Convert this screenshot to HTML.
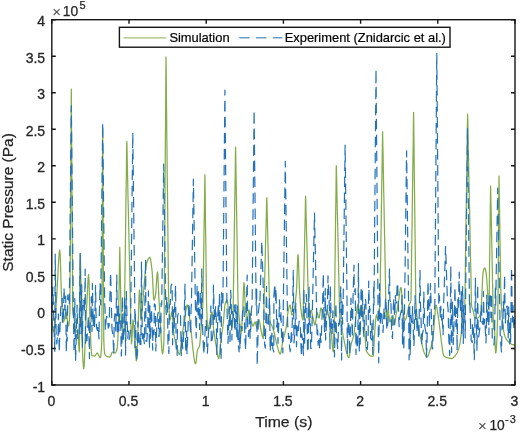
<!DOCTYPE html>
<html><head><meta charset="utf-8"><style>
html,body{margin:0;padding:0;background:#fff;}
body{width:520px;height:433px;overflow:hidden;}
svg{display:block;filter:blur(0.35px);}
</style></head><body>
<svg width="520" height="433" viewBox="0 0 520 433"><rect width="520" height="433" fill="#fff"/><defs><clipPath id="c"><rect x="51.8" y="19.7" width="463.2" height="365.3"/></clipPath></defs><g clip-path="url(#c)" fill="none" stroke-linejoin="round"><polyline points="51.8,318.0 52.2,323.3 52.6,327.2 53.0,329.8 53.4,331.3 53.8,331.9 54.0,332.0 54.2,331.6 54.6,328.9 55.0,324.1 55.4,317.9 55.8,311.1 56.2,304.5 56.5,300.0 56.6,298.6 57.0,291.9 57.4,284.3 57.8,276.2 58.2,268.3 58.6,261.2 59.0,255.4 59.4,251.4 59.8,250.0 59.8,250.0 60.2,255.2 60.6,267.4 61.0,282.0 61.4,294.0 61.5,296.0 61.8,301.4 62.2,308.6 62.6,314.9 63.0,319.6 63.4,321.9 63.5,322.0 63.8,321.6 64.2,320.1 64.6,317.9 65.0,315.5 65.4,313.5 65.8,312.2 66.0,312.0 66.2,312.3 66.6,314.0 67.0,316.9 67.4,320.3 67.8,323.3 68.2,325.4 68.5,326.0 68.6,325.9 69.0,324.4 69.4,320.2 69.8,312.5 69.9,310.0 70.1,273.2 70.2,262.6 70.4,236.3 70.6,199.5 70.6,199.5 70.8,162.7 71.0,136.4 71.1,125.8 71.3,89.0 71.4,99.6 71.5,125.8 71.8,162.7 71.8,167.9 72.0,199.5 72.2,231.1 72.2,236.3 72.5,273.2 72.6,298.9 72.7,310.0 73.0,313.4 73.4,315.7 73.8,317.0 74.0,318.0 74.2,319.3 74.6,321.9 75.0,324.6 75.4,327.1 75.8,329.2 76.0,330.0 76.2,330.6 76.6,331.6 77.0,332.3 77.4,333.1 77.8,334.2 78.0,335.0 78.2,336.7 78.6,343.3 79.0,349.9 79.3,352.0 79.4,348.6 79.8,294.6 80.2,253.5 80.2,253.5 80.6,263.7 81.0,287.3 81.4,313.6 81.8,332.0 81.8,332.0 82.2,342.8 82.6,352.9 83.0,361.2 83.4,366.9 83.8,369.0 83.8,369.0 84.2,365.4 84.6,356.5 85.0,345.1 85.4,333.8 85.6,329.0 85.8,324.7 86.2,316.0 86.6,307.7 87.0,300.0 87.0,300.0 87.4,292.0 87.8,283.6 88.2,277.1 88.6,274.5 88.6,274.5 89.0,280.7 89.4,295.4 89.8,312.9 90.2,327.5 90.3,330.0 90.6,336.9 91.0,345.8 91.4,352.6 91.8,355.4 91.8,355.4 92.2,355.6 92.6,355.7 93.0,355.8 93.4,355.9 93.8,355.9 94.2,356.0 94.6,356.0 94.8,356.0 95.0,355.9 95.4,355.5 95.8,354.9 96.2,354.1 96.6,353.5 97.0,353.1 97.2,353.0 97.4,353.1 97.8,353.5 98.2,354.2 98.6,355.1 99.0,356.0 99.4,356.9 99.8,357.5 100.2,357.7 100.2,357.7 100.6,357.1 101.0,354.5 101.4,349.1 101.8,340.0 101.8,340.0 102.0,304.7 102.1,269.3 102.2,245.8 102.2,234.0 102.4,198.7 102.5,163.3 102.6,148.9 102.7,128.0 102.9,163.3 103.0,185.8 103.1,198.7 103.2,234.0 103.4,262.9 103.4,269.3 103.6,304.7 103.8,340.0 103.8,340.0 104.2,349.4 104.6,353.3 104.8,354.0 105.0,354.4 105.4,355.2 105.8,355.7 106.2,356.1 106.6,356.3 107.0,356.5 107.0,356.5 107.4,356.6 107.8,356.7 108.2,356.8 108.6,356.9 109.0,356.9 109.4,357.0 109.8,357.0 110.0,357.0 110.2,356.9 110.6,356.3 111.0,355.2 111.4,354.1 111.8,353.0 112.2,352.2 112.5,352.0 112.6,352.0 113.0,352.1 113.4,352.3 113.8,352.5 114.2,352.8 114.6,352.9 115.0,353.0 115.0,353.0 115.4,352.8 115.8,352.3 116.2,351.5 116.6,350.3 117.0,348.8 117.2,348.0 117.4,346.5 117.8,340.0 118.2,329.7 118.5,320.0 118.6,315.0 118.7,307.9 118.9,295.8 119.0,292.1 119.2,283.7 119.4,271.6 119.4,269.7 119.6,259.5 119.8,247.4 119.8,247.4 120.0,257.8 120.2,268.3 120.2,268.3 120.4,278.7 120.6,289.1 120.6,289.1 120.8,299.6 121.0,310.0 121.0,310.0 121.4,318.4 121.8,324.2 122.2,328.0 122.5,330.0 122.6,330.6 123.0,332.8 123.4,334.4 123.8,335.0 123.8,335.0 124.2,330.0 124.2,330.0 124.6,301.1 124.6,298.6 125.0,272.0 125.1,267.1 125.4,243.0 125.5,235.7 125.8,213.9 125.9,204.3 126.2,184.9 126.4,172.8 126.6,151.7 126.8,141.4 127.0,146.0 127.4,167.9 127.5,171.2 127.8,186.0 128.1,200.9 128.2,203.9 128.6,221.8 128.8,230.7 129.0,239.6 129.4,257.5 129.5,260.5 129.8,275.3 130.1,290.2 130.2,293.2 130.6,311.7 130.8,320.0 131.0,328.7 131.4,343.0 131.5,343.8 131.8,341.3 132.2,333.1 132.6,324.2 133.0,320.0 133.0,320.0 133.4,321.8 133.8,326.5 134.2,332.8 134.6,339.4 135.0,345.0 135.0,345.0 135.4,350.5 135.8,356.3 136.2,360.2 136.4,360.8 136.6,360.0 137.0,354.2 137.4,345.0 137.8,334.8 138.0,330.0 138.2,324.7 138.6,311.1 139.0,297.9 139.4,290.4 139.5,290.0 139.8,293.1 140.2,303.5 140.6,314.7 141.0,320.0 141.0,320.0 141.4,318.6 141.8,315.1 142.2,310.2 142.6,304.9 143.0,300.0 143.0,300.0 143.4,295.1 143.8,289.6 144.2,284.1 144.6,279.1 145.0,275.0 145.0,275.0 145.4,271.6 145.8,268.5 146.2,265.7 146.6,263.5 147.0,262.0 147.0,262.0 147.4,260.9 147.8,259.9 148.2,259.1 148.6,258.3 149.0,257.8 149.4,257.4 149.8,257.3 149.8,257.3 150.2,257.9 150.6,259.6 151.0,262.0 151.4,265.0 151.8,268.3 152.0,270.0 152.2,272.2 152.6,278.9 153.0,287.1 153.4,294.6 153.8,299.3 154.0,300.0 154.2,299.9 154.6,299.0 155.0,297.4 155.4,295.5 155.5,295.0 155.8,292.5 156.2,287.0 156.6,280.7 157.0,275.1 157.4,272.1 157.5,272.0 157.8,274.1 158.2,281.5 158.6,291.3 159.0,300.0 159.0,300.0 159.4,306.9 159.8,313.6 160.2,320.0 160.2,320.0 160.6,327.0 161.0,334.8 161.4,342.3 161.8,348.6 162.2,352.8 162.5,353.8 162.6,353.7 163.0,352.4 163.4,348.7 163.8,342.4 164.0,338.0 164.2,313.6 164.3,291.2 164.6,253.7 164.7,244.3 165.0,197.5 165.0,197.5 165.3,150.7 165.4,141.3 165.7,103.8 165.8,80.6 166.0,57.0 166.2,70.6 166.4,95.8 166.6,112.9 166.8,134.7 167.0,150.2 167.2,173.5 167.4,187.5 167.7,212.3 167.8,224.8 168.1,251.2 168.2,263.4 168.5,290.0 168.6,293.6 169.0,306.1 169.4,314.8 169.8,319.4 170.0,320.0 170.2,319.8 170.6,318.3 171.0,316.0 171.4,313.7 171.8,312.2 172.0,312.0 172.2,312.5 172.6,316.2 173.0,322.0 173.4,328.3 173.8,333.4 174.0,335.0 174.2,336.2 174.6,338.2 175.0,339.8 175.4,341.3 175.8,342.6 176.2,344.0 176.5,345.0 176.6,345.4 177.0,346.9 177.4,348.6 177.8,350.3 178.2,351.9 178.6,353.2 179.0,354.1 179.4,354.6 179.5,354.6 179.8,354.0 180.2,351.8 180.6,348.3 181.0,344.2 181.4,340.1 181.8,336.4 182.0,335.0 182.2,333.8 182.6,331.5 183.0,329.4 183.4,327.4 183.8,325.4 184.2,323.4 184.6,321.2 184.8,320.0 185.0,318.7 185.4,315.3 185.8,311.7 186.2,308.4 186.6,305.9 187.0,305.0 187.0,305.0 187.4,305.5 187.8,306.8 188.2,308.6 188.5,310.0 188.6,310.5 189.0,313.1 189.4,316.3 189.8,319.7 190.2,323.0 190.2,323.0 190.6,326.2 191.0,329.8 191.4,333.7 191.8,337.7 192.2,341.7 192.6,345.7 193.0,349.5 193.4,353.0 193.8,356.3 194.2,359.0 194.6,361.3 195.0,362.9 195.4,363.7 195.6,363.8 195.8,363.4 196.2,360.9 196.6,357.1 197.0,353.2 197.4,350.4 197.5,350.0 197.8,349.2 198.2,348.5 198.6,347.9 199.0,347.3 199.4,346.3 199.5,346.0 199.8,344.3 200.2,340.3 200.6,335.2 201.0,330.0 201.0,330.0 201.4,325.6 201.8,321.4 202.2,316.5 202.6,309.7 203.0,300.0 203.0,300.0 203.3,279.1 203.4,273.6 203.6,258.2 203.8,247.2 203.9,237.3 204.2,220.8 204.3,216.4 204.6,195.5 204.6,194.3 204.9,174.6 205.0,179.4 205.2,195.5 205.4,213.8 205.4,216.4 205.7,237.3 205.8,245.1 206.0,258.2 206.2,276.5 206.2,279.1 206.5,300.0 206.6,303.6 207.0,316.0 207.4,324.8 207.8,329.4 208.0,330.0 208.2,329.8 208.6,328.4 209.0,326.1 209.4,323.5 209.8,321.0 210.0,320.0 210.2,319.1 210.6,317.0 211.0,314.9 211.4,313.2 211.8,312.1 212.0,312.0 212.2,312.7 212.6,316.9 213.0,322.6 213.3,326.0 213.4,326.9 213.8,330.2 214.2,333.2 214.6,336.1 215.0,338.8 215.4,341.4 215.8,343.8 216.0,345.0 216.2,346.2 216.6,348.8 217.0,351.5 217.4,354.0 217.8,356.2 218.2,357.7 218.6,358.5 218.7,358.5 219.0,357.9 219.4,355.5 219.8,352.0 220.2,347.8 220.6,343.6 221.0,340.0 221.0,340.0 221.4,337.0 221.8,334.2 222.2,331.5 222.6,328.6 223.0,325.5 223.3,323.0 223.4,322.1 223.8,317.5 224.2,312.4 224.6,307.9 225.0,305.0 225.0,305.0 225.4,303.4 225.8,302.1 226.2,301.0 226.6,300.3 227.0,300.0 227.0,300.0 227.4,301.2 227.8,304.1 228.2,308.0 228.6,311.9 229.0,315.0 229.0,315.0 229.4,317.6 229.8,320.2 230.2,322.6 230.6,324.3 231.0,325.0 231.0,325.0 231.4,324.9 231.8,324.4 232.2,323.5 232.6,322.1 233.0,320.0 233.0,320.0 233.4,293.5 233.4,291.2 233.8,266.8 233.9,262.3 234.2,240.2 234.3,233.5 234.6,213.5 234.7,204.7 235.0,186.9 235.2,175.8 235.4,156.4 235.6,147.0 235.8,156.6 236.0,172.5 236.2,185.2 236.4,198.0 236.6,210.7 236.8,223.5 237.0,236.2 237.2,249.0 237.4,261.7 237.6,274.5 237.8,289.2 238.0,300.0 238.2,304.5 238.6,311.3 239.0,316.1 239.4,319.7 239.8,323.1 240.0,325.0 240.2,327.2 240.6,331.7 241.0,333.8 241.0,333.8 241.4,331.7 241.8,326.6 242.2,320.0 242.5,315.0 242.6,313.2 243.0,303.1 243.4,291.8 243.8,283.9 244.0,282.7 244.2,283.8 244.6,290.9 245.0,300.8 245.4,308.8 245.5,310.0 245.8,312.9 246.2,316.4 246.6,319.0 247.0,320.0 247.0,320.0 247.4,319.0 247.8,316.5 248.2,313.5 248.6,311.0 249.0,310.0 249.0,310.0 249.4,310.8 249.8,312.8 250.2,315.4 250.6,318.0 251.0,320.0 251.0,320.0 251.4,321.6 251.8,323.2 252.2,324.6 252.6,325.6 253.0,326.0 253.0,326.0 253.4,325.6 253.8,324.6 254.2,323.4 254.6,322.4 255.0,322.0 255.0,322.0 255.4,322.6 255.8,324.1 256.2,325.9 256.6,327.4 257.0,328.0 257.0,328.0 257.4,327.2 257.8,325.2 258.2,322.8 258.6,320.8 259.0,320.0 259.0,320.0 259.4,320.8 259.8,322.7 260.2,325.3 260.6,327.9 261.0,330.0 261.0,330.0 261.4,331.8 261.8,333.8 262.2,335.7 262.6,337.2 263.0,338.2 263.3,338.5 263.4,334.8 263.6,320.0 263.8,311.6 264.1,299.6 264.2,297.1 264.6,281.8 264.7,279.2 265.0,266.5 265.2,258.9 265.4,251.2 265.7,238.5 265.8,235.9 266.2,220.6 266.3,218.1 266.6,202.4 266.8,197.7 267.0,202.7 267.3,217.2 267.4,221.2 267.8,236.8 267.8,236.8 268.2,252.4 268.3,256.4 268.6,268.1 268.8,275.9 269.0,283.7 269.3,295.4 269.4,299.5 269.8,315.0 269.8,315.0 270.0,320.0 270.2,321.2 270.6,322.9 271.0,324.0 271.4,324.7 271.8,325.5 272.0,326.0 272.2,326.6 272.6,327.7 273.0,328.9 273.4,330.1 273.8,331.3 274.0,332.0 274.2,332.7 274.6,334.4 275.0,336.2 275.4,338.1 275.8,340.0 276.2,341.8 276.6,343.5 277.0,345.0 277.0,345.0 277.4,346.4 277.8,347.9 278.2,349.4 278.6,350.7 279.0,352.0 279.4,352.9 279.8,353.6 280.2,353.8 280.2,353.8 280.6,353.3 281.0,351.8 281.4,349.7 281.8,347.2 282.2,344.6 282.6,342.1 283.0,340.0 283.0,340.0 283.4,338.3 283.8,336.8 284.2,335.3 284.6,333.9 285.0,332.5 285.4,330.9 285.8,329.1 286.2,327.1 286.4,326.0 286.6,324.6 287.0,320.9 287.4,316.8 287.8,313.3 288.0,312.0 288.2,311.0 288.6,309.0 289.0,307.2 289.4,305.9 289.8,305.1 290.0,305.0 290.2,305.3 290.6,307.2 291.0,310.0 291.4,312.8 291.8,314.7 292.0,315.0 292.2,314.9 292.6,314.4 293.0,313.4 293.4,312.2 293.8,310.7 294.0,310.0 294.2,309.2 294.6,307.2 295.0,304.6 295.4,301.5 295.8,297.8 296.2,293.6 296.5,290.0 296.6,288.5 297.0,278.1 297.4,265.3 297.8,256.0 298.0,254.6 298.2,255.9 298.6,264.6 299.0,277.0 299.4,288.1 299.5,290.0 299.8,295.0 300.2,301.1 300.6,306.2 301.0,310.0 301.0,310.0 301.4,312.9 301.8,315.7 302.2,317.9 302.6,319.4 303.0,320.0 303.0,320.0 303.4,301.1 303.4,299.4 303.8,281.9 303.9,278.7 304.2,262.9 304.3,258.1 304.6,243.8 304.7,237.5 305.0,224.8 305.2,216.8 305.4,203.0 305.6,196.2 305.8,200.7 306.1,216.0 306.2,218.5 306.6,233.3 306.7,235.8 307.0,248.2 307.2,255.6 307.4,263.0 307.7,275.4 307.8,277.9 308.2,292.7 308.3,295.2 308.6,308.2 308.8,315.0 309.0,320.0 309.0,320.0 309.4,319.0 309.8,316.5 310.2,313.5 310.6,311.0 311.0,310.0 311.0,310.0 311.4,310.6 311.8,312.1 312.2,314.1 312.6,316.2 313.0,318.0 313.0,318.0 313.4,319.7 313.8,321.5 314.2,323.3 314.6,324.5 315.0,325.0 315.0,325.0 315.4,323.6 315.8,320.4 316.2,316.6 316.6,313.4 317.0,312.0 317.0,312.0 317.4,312.6 317.8,314.1 318.2,315.9 318.6,317.4 319.0,318.0 319.0,318.0 319.4,317.0 319.8,314.5 320.2,311.5 320.6,309.0 321.0,308.0 321.0,308.0 321.4,308.5 321.8,309.8 322.2,311.5 322.6,313.4 323.0,315.0 323.0,315.0 323.4,316.6 323.8,318.5 324.2,320.2 324.6,321.5 325.0,322.0 325.0,322.0 325.4,320.8 325.8,317.8 326.2,314.2 326.6,311.2 327.0,310.0 327.0,310.0 327.4,310.5 327.8,311.9 328.2,313.8 328.6,315.9 329.0,318.0 329.0,318.0 329.4,320.0 329.8,322.2 330.2,324.6 330.6,327.2 331.0,330.0 331.0,330.0 331.4,333.7 331.8,338.5 332.2,343.4 332.6,347.8 333.0,350.7 333.3,351.5 333.4,351.1 333.8,341.8 334.2,324.8 334.3,320.0 334.6,296.9 334.6,294.3 335.0,268.6 335.0,266.0 335.3,242.8 335.4,235.1 335.6,217.1 335.8,204.3 336.0,191.4 336.2,169.6 336.3,165.7 336.6,175.8 336.9,191.4 337.0,196.6 337.4,214.2 337.5,217.1 337.8,231.8 338.1,242.8 338.2,249.5 338.6,267.1 338.6,268.6 339.0,284.7 339.2,294.3 339.4,304.1 339.8,320.0 339.8,320.0 340.0,320.0 340.2,320.2 340.6,321.5 341.0,323.7 341.4,326.4 341.8,328.9 342.0,330.0 342.2,331.0 342.6,333.0 343.0,335.0 343.4,337.0 343.8,339.0 344.0,340.0 344.2,341.0 344.6,343.1 345.0,345.2 345.4,347.2 345.8,349.2 346.2,350.9 346.5,352.0 346.6,352.3 347.0,353.7 347.4,355.1 347.8,356.3 348.2,357.2 348.6,357.7 348.7,357.7 349.0,357.3 349.4,355.6 349.8,353.0 350.2,350.1 350.6,347.2 351.0,345.0 351.0,345.0 351.4,343.4 351.8,342.0 352.2,340.7 352.6,339.5 353.0,338.2 353.4,336.6 353.8,334.8 354.0,333.8 354.2,332.5 354.6,328.9 355.0,324.7 355.4,320.3 355.8,316.5 356.0,315.0 356.2,313.7 356.6,310.9 357.0,308.4 357.4,306.3 357.8,305.2 358.0,305.0 358.2,305.2 358.6,306.5 359.0,308.5 359.4,310.5 359.8,311.8 360.0,312.0 360.2,311.8 360.6,310.5 361.0,308.5 361.4,306.5 361.8,305.2 362.0,305.0 362.2,305.3 362.6,307.1 363.0,310.2 363.4,314.0 363.8,318.1 364.0,320.0 364.2,322.1 364.6,327.7 365.0,334.1 365.4,340.6 365.8,346.1 366.2,349.9 366.4,350.8 366.6,351.3 367.0,352.1 367.4,352.7 367.8,353.2 368.2,353.7 368.5,354.0 368.6,354.1 369.0,354.6 369.4,355.1 369.8,355.5 370.2,355.9 370.6,356.1 371.0,356.2 371.0,356.2 371.4,356.2 371.8,356.2 372.2,356.2 372.6,356.1 373.0,356.1 373.3,356.0 373.4,355.7 373.8,349.7 374.2,340.5 374.5,335.0 374.6,333.7 375.0,328.2 375.4,322.9 375.8,318.6 376.2,315.7 376.5,315.0 376.6,315.1 377.0,316.3 377.4,318.2 377.8,319.8 378.0,320.0 378.2,319.8 378.6,318.3 379.0,315.1 379.4,310.4 379.8,303.9 380.0,300.0 380.2,289.6 380.4,271.9 380.6,261.2 380.9,243.9 381.0,235.3 381.3,215.8 381.4,209.4 381.7,187.8 381.8,183.5 382.2,159.8 382.2,157.4 382.6,131.7 382.6,131.7 383.0,150.9 383.2,161.4 383.4,173.7 383.7,191.1 383.8,194.6 384.2,215.6 384.3,220.9 384.6,236.6 384.9,250.6 385.0,257.6 385.4,278.5 385.4,280.3 385.8,301.5 386.0,310.0 386.2,315.6 386.5,320.0 386.6,319.9 387.0,317.4 387.4,313.5 387.8,310.5 388.0,310.0 388.2,310.3 388.6,312.6 389.0,316.0 389.4,319.4 389.8,321.7 390.0,322.0 390.2,321.8 390.6,320.7 391.0,319.0 391.4,317.3 391.8,316.2 392.0,316.0 392.2,316.3 392.6,317.9 393.0,320.5 393.4,323.1 393.8,324.7 394.0,325.0 394.2,324.8 394.6,323.5 395.0,321.3 395.4,318.6 395.8,316.1 396.0,315.0 396.2,314.0 396.6,312.0 397.0,310.1 397.4,308.1 397.8,306.1 398.0,305.0 398.2,303.8 398.6,301.1 399.0,298.0 399.4,294.9 399.8,292.0 400.2,289.6 400.6,287.9 401.0,287.3 401.0,287.3 401.4,289.2 401.8,294.0 402.2,300.0 402.6,305.9 403.0,310.0 403.0,310.0 403.4,312.8 403.8,315.5 404.2,317.8 404.6,319.4 405.0,320.0 405.0,320.0 405.4,319.7 405.8,318.9 406.2,317.7 406.6,316.4 407.0,315.0 407.0,315.0 407.4,313.3 407.8,311.2 408.2,308.8 408.6,306.7 409.0,305.0 409.0,305.0 409.4,304.0 409.8,303.4 410.2,302.9 410.6,301.9 411.0,300.0 411.0,300.0 411.4,271.3 411.4,268.7 411.8,242.2 411.9,237.4 412.2,213.4 412.3,206.2 412.6,184.5 412.7,174.9 413.0,155.6 413.2,143.6 413.4,122.6 413.6,112.3 413.8,125.8 414.0,143.6 414.2,163.5 414.3,174.9 414.6,197.6 414.7,206.1 415.0,231.7 415.1,237.4 415.4,265.9 415.4,268.7 415.8,300.0 415.8,300.0 416.2,307.9 416.6,312.9 417.0,316.1 417.4,319.1 417.5,320.0 417.8,322.6 418.2,325.7 418.6,328.4 418.7,329.0 419.0,330.7 419.4,332.8 419.8,334.7 420.2,336.5 420.6,338.3 421.0,340.0 421.0,340.0 421.4,341.8 421.8,343.6 422.2,345.5 422.6,347.2 423.0,348.9 423.4,350.3 423.8,351.5 424.0,352.0 424.2,352.5 424.6,353.4 425.0,354.2 425.4,355.0 425.8,355.7 426.2,356.3 426.6,356.7 427.0,357.0 427.2,357.0 427.4,356.9 427.8,356.5 428.2,355.7 428.6,354.6 429.0,353.4 429.4,352.0 429.8,350.6 430.0,350.0 430.2,349.4 430.6,348.1 431.0,346.8 431.4,345.3 431.8,343.7 432.2,341.9 432.6,339.8 433.0,337.4 433.3,335.4 433.4,334.6 433.8,329.8 434.2,323.9 434.5,320.0 434.6,318.8 435.0,313.6 435.4,308.7 435.8,305.5 436.0,305.0 436.2,305.2 436.6,306.4 437.0,308.5 437.4,311.1 437.8,313.7 438.0,315.0 438.2,316.2 438.6,319.0 439.0,322.0 439.4,325.2 439.8,328.4 440.0,330.0 440.2,331.6 440.6,335.1 441.0,338.7 441.4,342.0 441.8,345.0 441.8,345.0 442.2,347.8 442.6,350.6 443.0,353.1 443.4,355.1 443.8,356.0 443.8,356.0 444.2,356.3 444.6,356.6 445.0,356.8 445.4,357.0 445.8,357.2 446.2,357.3 446.6,357.4 447.0,357.5 447.4,357.6 447.7,357.7 447.8,357.7 448.2,357.8 448.6,358.0 449.0,358.1 449.4,358.2 449.8,358.3 450.2,358.4 450.6,358.4 451.0,358.5 451.4,358.5 451.5,358.5 451.8,358.5 452.2,358.4 452.6,358.2 453.0,358.0 453.4,357.7 453.8,357.3 454.2,356.9 454.6,356.5 455.0,356.0 455.4,355.4 455.8,354.9 456.2,354.3 456.6,353.6 457.0,353.0 457.0,353.0 457.4,352.3 457.8,351.3 458.2,350.2 458.6,348.9 459.0,347.4 459.4,345.8 459.8,344.0 460.0,343.0 460.2,341.9 460.6,339.0 461.0,335.4 461.4,331.4 461.8,327.5 462.2,323.8 462.3,323.0 462.6,320.6 463.0,317.4 463.4,314.3 463.8,311.4 464.0,310.0 464.2,308.9 464.6,306.9 464.8,305.0 465.0,295.0 465.3,273.2 465.4,264.1 465.7,241.4 465.8,236.9 466.2,209.6 466.2,209.6 466.6,182.3 466.7,177.8 467.0,155.1 467.1,146.0 467.4,123.4 467.6,114.2 467.8,119.3 468.2,143.4 468.2,146.0 468.6,163.1 468.9,177.8 469.0,182.7 469.4,202.3 469.6,209.6 469.8,221.8 470.2,241.4 470.2,241.4 470.6,261.0 470.9,273.2 471.0,281.7 471.4,303.1 471.5,305.0 471.8,306.7 472.2,308.0 472.6,308.9 473.0,310.0 473.0,310.0 473.4,311.8 473.8,313.9 474.2,315.9 474.6,317.4 475.0,318.0 475.0,318.0 475.4,318.0 475.8,318.0 476.2,318.0 476.6,318.0 477.0,318.0 477.4,318.0 477.5,318.0 477.8,318.0 478.2,317.8 478.6,317.5 479.0,317.0 479.4,316.4 479.8,315.7 480.2,314.8 480.5,314.0 480.6,313.6 481.0,309.6 481.4,303.0 481.8,295.5 482.0,292.0 482.2,288.1 482.6,278.9 483.0,273.0 483.0,273.0 483.4,270.9 483.8,269.4 484.2,268.4 484.6,268.0 484.6,268.0 485.0,268.4 485.4,269.5 485.8,271.1 486.0,272.0 486.2,273.3 486.6,277.5 487.0,283.0 487.4,288.7 487.5,290.0 487.8,294.5 488.2,301.5 488.6,307.5 489.0,310.0 489.0,310.0 489.3,289.3 489.4,279.0 489.5,268.7 489.8,248.0 489.8,248.0 490.1,227.3 490.2,217.0 490.3,206.7 490.6,186.0 490.6,186.0 491.0,205.1 491.1,209.8 491.4,225.4 491.6,233.7 491.8,245.2 492.1,257.5 492.2,264.9 492.5,281.3 492.6,284.6 493.0,304.3 493.0,305.2 493.4,327.2 493.5,329.0 493.8,323.2 494.0,320.0 494.2,321.3 494.6,329.4 495.0,340.8 495.4,350.3 495.7,353.0 495.8,352.9 496.2,350.7 496.6,345.4 497.0,336.8 497.4,324.8 497.8,309.2 498.0,300.0 498.2,279.3 498.2,275.2 498.3,258.6 498.5,238.0 498.6,225.5 498.7,217.3 498.8,196.6 499.0,175.9 499.0,175.9 499.3,194.9 499.4,201.3 499.6,213.9 499.8,226.6 499.9,232.9 500.2,252.0 500.2,252.0 500.5,271.0 500.6,278.0 500.8,290.0 501.0,295.9 501.4,305.1 501.8,311.8 502.2,316.8 502.5,320.0 502.6,321.0 503.0,325.0 503.4,328.5 503.8,331.4 504.2,333.8 504.6,335.4 504.6,335.4 505.0,336.5 505.4,337.5 505.8,338.2 506.2,338.9 506.6,339.5 507.0,340.0 507.0,340.0 507.4,340.5 507.8,341.0 508.2,341.4 508.6,341.8 509.0,342.2 509.4,342.5 509.8,342.8 510.0,343.0 510.2,343.2 510.6,343.5 511.0,343.9 511.4,344.2 511.8,344.4 512.2,344.6 512.3,344.6 512.6,344.7 513.0,344.7 513.4,344.8 513.8,344.9 514.2,344.9 514.6,345.0 515.0,345.0 515.4,345.0 515.5,345.0" stroke="#84ad4a" stroke-width="1.25"/><polyline points="52.1,311.9 52.5,295.8 52.9,287.1 53.9,323.8 54.8,351.3 55.2,254.2 56.1,331.3 56.8,343.9 57.3,337.8 58.0,340.0 58.4,314.0 59.3,352.0 59.8,333.8 60.6,309.8 61.0,305.6 62.2,298.4 62.4,323.6 63.5,316.2 64.0,287.7 64.9,309.8 65.7,296.0 66.3,353.1 66.6,333.8 67.2,341.0 67.8,294.9 68.6,301.3 69.3,305.0 71.3,105.8 73.3,305.0 74.0,352.0 74.8,298.7 75.6,360.8 76.4,332.2 77.1,305.0 77.8,338.4 78.4,337.4 79.1,338.5 80.2,253.5 80.6,333.2 81.2,333.1 81.7,284.6 82.4,347.3 82.9,306.6 83.7,299.7 84.6,311.9 85.2,269.0 85.5,343.2 86.3,333.1 86.9,340.8 87.9,324.1 88.5,316.0 89.5,358.5 89.6,331.2 90.8,317.9 91.3,296.8 92.0,331.5 92.4,283.5 93.3,325.5 94.2,312.5 94.5,328.9 95.6,285.5 96.0,314.0 96.7,328.0 97.4,330.6 98.2,325.8 99.0,339.0 99.2,320.4 100.1,283.6 100.7,305.0 102.7,123.1 104.7,305.0 105.1,308.3 105.3,330.3 106.4,316.5 107.0,316.5 107.6,319.4 108.3,328.1 109.1,326.1 109.7,303.8 110.6,272.6 111.2,294.9 111.9,327.4 112.1,330.7 112.9,334.4 113.8,354.6 114.2,320.9 115.0,313.7 115.8,331.0 116.8,275.0 117.2,328.6 117.7,335.0 118.5,303.1 118.9,331.0 119.8,314.2 120.6,316.8 121.3,356.0 121.9,342.9 122.4,296.6 123.1,342.0 124.0,330.3 124.6,297.9 125.2,314.3 125.6,355.1 126.3,291.3 127.2,323.7 127.8,338.3 128.4,331.1 129.2,339.6 130.3,332.4 130.8,305.0 132.8,132.6 134.8,305.0 135.0,347.5 135.1,310.1 135.8,327.6 136.4,360.8 137.5,352.9 137.9,321.8 138.8,342.4 139.8,346.3 140.2,333.5 140.9,344.7 141.5,262.0 142.3,338.6 143.2,331.0 143.4,336.3 144.4,343.6 144.7,316.3 145.6,258.8 146.0,341.2 146.8,341.3 147.7,327.6 148.4,290.8 149.5,349.0 149.9,304.8 150.2,340.3 150.8,323.8 151.5,309.0 152.7,350.1 153.0,327.5 154.0,334.6 154.3,303.9 155.3,305.2 155.8,351.0 156.8,326.5 157.0,318.9 158.2,312.4 158.8,336.5 159.1,336.6 159.8,316.6 160.8,332.9 161.1,303.3 161.7,305.0 163.7,164.0 165.7,305.0 166.3,314.5 166.8,297.0 167.5,308.5 168.0,346.0 168.9,353.4 169.3,304.8 170.2,304.7 171.0,286.1 171.8,284.0 172.2,290.8 172.6,344.8 173.6,309.6 174.2,330.2 174.7,304.8 175.6,285.8 176.1,347.2 177.1,355.3 177.6,315.8 178.3,313.4 178.7,315.5 179.5,315.0 180.5,314.1 181.3,355.4 181.9,335.5 182.3,342.4 182.8,348.8 183.9,330.4 184.5,303.1 185.0,284.0 185.6,352.2 186.6,331.2 187.0,353.7 187.9,332.5 188.2,321.8 188.9,302.8 190.1,323.1 190.6,334.1 191.1,307.3 191.4,305.0 193.4,179.2 195.4,305.0 196.2,338.1 196.5,324.7 197.1,286.2 198.1,314.8 198.4,290.3 199.6,329.4 200.3,292.7 200.9,296.3 201.2,327.5 201.8,268.8 202.7,329.6 203.7,354.4 204.4,344.9 205.1,331.7 205.4,322.7 206.3,320.6 207.0,348.4 207.4,353.2 208.5,331.6 208.9,328.8 209.7,326.7 210.2,330.0 210.9,305.8 211.3,343.8 212.5,337.1 213.2,331.5 213.4,285.1 214.5,321.1 214.9,319.2 215.6,306.7 216.3,319.1 216.8,354.4 217.9,312.5 218.5,302.8 218.9,320.8 219.6,292.3 220.5,349.5 221.1,359.4 221.6,292.7 222.3,304.3 222.9,305.0 224.9,90.1 226.9,305.0 228.0,343.4 228.6,328.2 229.5,306.9 230.0,344.2 230.6,290.4 231.1,297.4 231.9,340.1 232.4,311.4 233.4,317.3 234.3,304.9 234.6,330.4 235.1,331.6 235.8,304.6 236.9,336.8 237.4,305.8 238.0,342.6 239.1,351.8 239.2,324.1 240.0,349.0 241.1,326.3 241.8,327.0 242.1,330.6 242.6,308.3 243.8,305.8 244.4,318.6 245.0,340.3 245.7,349.8 246.1,317.6 247.2,275.0 247.7,326.8 248.5,336.6 249.1,325.8 249.9,310.7 250.1,338.3 250.8,327.6 251.4,309.4 252.1,305.0 254.1,110.2 256.1,305.0 256.7,289.4 257.2,365.4 257.9,339.0 258.4,311.9 259.4,303.2 259.8,305.0 261.8,241.4 263.8,305.0 264.6,344.4 265.3,348.2 265.8,320.3 266.5,286.3 267.1,327.1 268.3,324.9 269.0,307.3 269.5,298.7 270.2,351.5 270.9,334.8 271.4,345.3 271.9,333.0 272.8,348.7 273.8,352.0 273.9,295.6 274.8,284.0 275.5,301.5 276.0,289.0 276.7,327.1 277.6,317.1 278.0,343.2 279.1,316.1 279.4,299.8 280.5,320.0 280.9,310.9 281.6,337.2 282.2,331.3 282.9,353.1 283.3,305.0 285.3,161.4 287.3,305.0 287.7,325.2 288.7,338.6 289.2,336.5 289.5,346.6 290.2,351.7 291.3,332.7 291.7,341.2 292.7,306.4 293.3,270.4 294.0,343.0 294.8,331.5 295.0,329.9 295.8,303.1 296.5,346.7 297.3,326.3 298.2,331.5 298.7,325.2 299.2,321.2 300.3,323.4 300.7,339.1 301.5,356.6 301.8,333.9 302.5,340.0 303.5,355.1 303.9,288.9 304.6,343.2 305.3,313.3 306.3,294.4 306.8,303.3 307.5,347.8 308.1,352.4 309.0,286.0 309.4,324.7 310.1,311.0 310.7,348.6 311.4,348.2 312.5,305.0 314.5,213.0 316.5,305.0 317.1,337.3 317.7,330.0 318.1,345.1 318.7,340.0 319.5,347.7 320.1,332.9 321.0,342.4 321.5,331.6 322.5,306.4 323.3,273.5 323.9,315.0 324.6,331.7 325.3,288.5 325.6,340.0 326.5,322.2 327.5,302.6 328.0,275.8 328.7,295.5 329.5,309.7 330.0,348.8 330.3,285.9 331.4,327.1 332.1,334.3 332.9,310.8 333.4,321.9 334.0,321.1 334.5,356.9 335.5,317.2 335.9,303.4 336.5,336.0 337.7,348.6 338.2,336.8 338.6,323.1 339.4,324.2 340.0,300.8 340.8,286.9 341.6,359.9 342.0,300.2 342.6,324.1 343.1,305.0 345.1,145.2 347.1,305.0 347.3,354.3 348.2,321.0 348.9,322.0 349.7,354.8 350.6,321.3 351.0,298.2 351.5,304.8 352.3,337.5 353.2,290.6 354.0,265.0 354.3,291.5 355.2,288.6 356.0,354.5 356.3,332.3 357.2,349.0 357.9,339.5 358.4,263.5 359.3,352.8 359.8,312.5 360.2,344.1 361.1,286.5 361.7,319.1 362.5,290.0 363.1,326.9 363.9,336.7 364.6,307.5 365.3,298.8 365.9,302.0 366.5,348.0 367.4,349.3 368.2,332.4 368.7,281.0 369.6,312.7 370.2,309.0 370.6,337.9 371.5,339.6 371.9,323.7 372.8,354.3 373.7,284.4 374.0,305.0 376.0,69.0 378.0,305.0 378.7,363.0 379.5,283.9 380.3,326.0 380.9,313.1 381.5,310.6 382.1,318.8 383.0,332.4 383.8,315.9 384.0,307.6 384.8,318.6 385.6,297.6 386.3,308.7 386.8,330.0 388.0,321.6 388.2,311.6 389.5,268.8 389.9,299.6 390.5,302.2 390.9,300.2 391.7,333.9 392.5,338.5 393.2,307.8 393.9,299.0 394.7,324.6 395.3,295.6 395.6,299.9 396.4,303.1 397.2,282.7 397.7,284.1 398.7,316.9 399.1,326.6 399.7,317.9 400.4,314.5 401.5,309.9 402.0,295.4 402.5,344.0 403.2,313.6 403.8,350.2 404.6,305.0 406.6,150.8 408.6,305.0 409.1,359.8 409.8,306.8 410.2,355.4 410.9,315.6 411.8,322.3 412.1,321.7 412.6,306.5 413.7,345.5 414.0,345.2 415.1,295.6 415.5,321.5 416.5,309.7 417.0,332.5 417.6,320.6 418.4,324.6 418.8,338.6 420.0,270.4 420.4,302.2 421.0,317.1 421.8,344.9 422.4,334.7 423.2,330.4 423.8,292.1 424.7,324.9 425.1,328.2 426.1,333.4 426.4,357.2 427.0,345.0 428.0,281.0 428.5,299.8 429.5,326.9 430.0,299.2 430.5,283.6 431.0,299.8 432.2,348.9 432.6,348.7 433.4,324.3 433.9,315.4 434.8,305.0 436.8,53.3 438.8,305.0 439.4,295.9 440.4,317.8 440.8,306.2 441.6,319.9 441.9,313.2 443.1,334.7 443.6,305.0 445.6,246.5 447.6,305.0 448.1,308.8 448.7,336.2 449.7,355.4 450.2,325.1 450.8,265.8 451.6,352.6 452.5,302.1 453.2,344.6 453.6,336.7 454.6,304.5 454.9,287.2 455.8,326.3 456.7,308.5 457.1,350.5 457.8,299.6 458.3,310.5 459.2,272.0 459.8,297.4 460.7,311.9 461.3,291.5 461.7,333.5 462.7,286.6 463.3,343.5 463.7,305.2 464.6,309.2 465.2,337.9 465.5,305.0 467.5,128.6 469.5,305.0 469.8,301.2 470.6,325.6 471.2,340.6 472.3,342.5 472.5,323.4 473.4,323.9 474.3,359.6 474.6,346.4 475.4,278.0 475.9,308.6 477.0,350.8 477.7,284.6 478.0,320.9 478.6,336.9 479.4,332.2 480.1,324.8 480.8,315.2 481.4,305.5 482.0,322.3 483.1,324.5 483.4,291.5 484.2,324.1 484.8,319.6 486.0,343.0 486.5,319.1 486.7,295.0 487.7,323.7 488.5,302.3 488.9,334.4 489.5,292.9 490.6,295.8 490.9,317.4 491.5,293.6 492.3,338.9 493.4,341.5 494.0,345.1 494.5,336.4 495.4,285.2 495.7,305.0 497.7,188.0 499.7,305.0 500.3,338.1 501.5,352.0 502.2,317.8 502.9,328.2 503.2,301.9 503.9,311.0 504.6,275.0 505.3,324.1 505.8,315.3 506.6,306.7 507.2,306.1 508.2,337.8 508.7,306.9 509.7,343.8 510.4,320.3 510.6,342.0 511.5,267.3 512.4,322.1 513.0,305.6 513.8,327.4 514.0,320.5 514.9,324.5 515.6,312.4 516.4,332.3 516.8,341.5" stroke="#2372b8" stroke-width="1.2" stroke-dasharray="10.5 5.5"/></g><rect x="51.8" y="19.7" width="463.2" height="365.3" fill="none" stroke="#151515" stroke-width="1.4"/><path d="M51.8,385.0v-4.0M51.8,19.7v4.0M129.0,385.0v-4.0M129.0,19.7v4.0M206.2,385.0v-4.0M206.2,19.7v4.0M283.4,385.0v-4.0M283.4,19.7v4.0M360.6,385.0v-4.0M360.6,19.7v4.0M437.8,385.0v-4.0M437.8,19.7v4.0M515.0,385.0v-4.0M515.0,19.7v4.0M51.8,385.0h4.0M515.0,385.0h-4.0M51.8,348.5h4.0M515.0,348.5h-4.0M51.8,311.9h4.0M515.0,311.9h-4.0M51.8,275.4h4.0M515.0,275.4h-4.0M51.8,238.9h4.0M515.0,238.9h-4.0M51.8,202.3h4.0M515.0,202.3h-4.0M51.8,165.8h4.0M515.0,165.8h-4.0M51.8,129.3h4.0M515.0,129.3h-4.0M51.8,92.8h4.0M515.0,92.8h-4.0M51.8,56.2h4.0M515.0,56.2h-4.0M51.8,19.7h4.0M515.0,19.7h-4.0" stroke="#151515" stroke-width="1.4" fill="none"/><g font-family="Liberation Sans, Arial, sans-serif" font-size="14" fill="#262626" stroke="#262626" stroke-width="0.3"><text x="51.3" y="405.6" text-anchor="middle">0</text><text x="128.5" y="405.6" text-anchor="middle">0.5</text><text x="205.7" y="405.6" text-anchor="middle">1</text><text x="282.9" y="405.6" text-anchor="middle">1.5</text><text x="360.1" y="405.6" text-anchor="middle">2</text><text x="437.3" y="405.6" text-anchor="middle">2.5</text><text x="514.5" y="405.6" text-anchor="middle">3</text><text x="45.1" y="391.5" text-anchor="end">-1</text><text x="45.1" y="355.0" text-anchor="end">-0.5</text><text x="45.1" y="318.4" text-anchor="end">0</text><text x="45.1" y="281.9" text-anchor="end">0.5</text><text x="45.1" y="245.4" text-anchor="end">1</text><text x="45.1" y="208.8" text-anchor="end">1.5</text><text x="45.1" y="172.3" text-anchor="end">2</text><text x="45.1" y="135.8" text-anchor="end">2.5</text><text x="45.1" y="99.3" text-anchor="end">3</text><text x="45.1" y="62.7" text-anchor="end">3.5</text><text x="45.1" y="26.2" text-anchor="end">4</text></g><g font-family="Liberation Sans, Arial, sans-serif" fill="#262626" stroke="#262626" stroke-width="0.25"><text x="56.75" y="17.1" font-size="15" text-anchor="middle" fill="#4a4a4a" stroke="none">×</text><text x="70.5" y="15.9" font-size="13.8" text-anchor="middle">10</text><text x="79.6" y="9.2" font-size="11">5</text><text x="482.35" y="431.1" font-size="15" text-anchor="middle" fill="#4a4a4a" stroke="none">×</text><text x="497.1" y="429.6" font-size="13.8" text-anchor="middle">10</text><text x="505.0" y="423.2" font-size="11">-</text><text x="509.7" y="423.2" font-size="11">3</text></g><text x="283.8" y="427.0" font-family="Liberation Sans, Arial, sans-serif" font-size="15.3" textLength="57.3" lengthAdjust="spacingAndGlyphs" fill="#262626" stroke="#262626" stroke-width="0.25" text-anchor="middle">Time (s)</text><text transform="translate(13.2,202.45) rotate(-90)" font-family="Liberation Sans, Arial, sans-serif" font-size="14.8" textLength="138.6" lengthAdjust="spacingAndGlyphs" fill="#262626" stroke="#262626" stroke-width="0.25" text-anchor="middle">Static Pressure (Pa)</text><rect x="119.4" y="27.3" width="330.6" height="19.9" fill="#fff" stroke="#151515" stroke-width="1.4"/><line x1="123.5" y1="37.8" x2="166.2" y2="37.8" stroke="#a3bc78" stroke-width="1.3"/><line x1="239.2" y1="37.8" x2="282.4" y2="37.8" stroke="#6a9fcc" stroke-width="1.4" stroke-dasharray="10.4 6.4"/><g font-family="Liberation Sans, Arial, sans-serif" font-size="12.9" fill="#000" stroke="#000" stroke-width="0.2"><text x="169.4" y="42.4">Simulation</text><text x="284.7" y="42.4">Experiment (Znidarcic et al.)</text></g></svg>
</body></html>
